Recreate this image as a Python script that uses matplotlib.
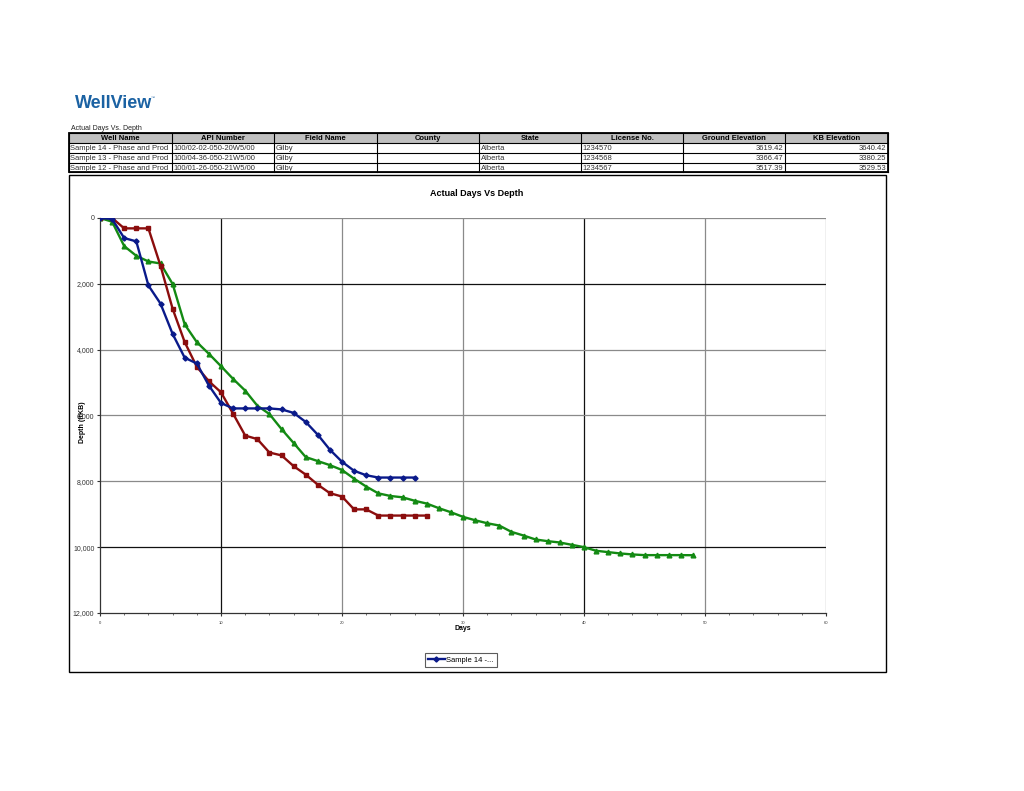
import matplotlib
matplotlib.use("Agg")
import matplotlib.pyplot as plt
from matplotlib.patches import Rectangle
from matplotlib.ticker import MultipleLocator, FuncFormatter

plt.rcParams['font.family'] = ['Liberation Sans', 'DejaVu Sans']

# ---------------- data ----------------
days_s14 = list(range(0, 27))
depth_s14 = [0, 30, 610, 710, 2050, 2600, 3520, 4245, 4420, 5090, 5620,
             5785, 5785, 5785, 5785, 5815, 5920, 6195, 6585, 7040, 7405,
             7680, 7815, 7885, 7885, 7885, 7885]

days_s13 = list(range(0, 28))
depth_s13 = [0, 0, 315, 315, 315, 1450, 2755, 3770, 4520, 4960, 5295,
             5945, 6610, 6717, 7125, 7212, 7538, 7795, 8102, 8360, 8462,
             8852, 8852, 9040, 9040, 9040, 9040, 9040]

days_s12 = list(range(0, 50))
depth_s12 = [0, 112, 854, 1148, 1321, 1382, 2003, 3232, 3771, 4126, 4502,
             4888, 5244, 5701, 5955, 6412, 6835, 7262, 7385, 7508, 7655,
             7920, 8158, 8365, 8445, 8485, 8590, 8675, 8815, 8939, 9079,
             9182, 9273, 9343, 9535, 9646, 9767, 9818, 9858, 9929, 10000,
             10109, 10151, 10191, 10221, 10242, 10242, 10242, 10242, 10245]

series_names = ["Sample 14 - Phase and Prod", "Sample 13 - Phase and Prod",
                "Sample 12 - Phase and Prod"]

table_headers = ["Well Name", "API Number", "Field Name", "County", "State",
                 "License No.", "Ground Elevation", "KB Elevation"]
table_rows = [
    ["Sample 14 - Phase and Prod", "100/02-02-050-20W5/00", "Gilby", "", "Alberta", "1234570", "3619.42", "3640.42"],
    ["Sample 13 - Phase and Prod", "100/04-36-050-21W5/00", "Gilby", "", "Alberta", "1234568", "3366.47", "3380.25"],
    ["Sample 12 - Phase and Prod", "100/01-26-050-21W5/00", "Gilby", "", "Alberta", "1234567", "3517.39", "3529.53"],
]

# ---------------- figure ----------------
W, H = 1024, 791
fig = plt.figure(figsize=(W / 100, H / 100), dpi=100)
fig.patch.set_facecolor("white")

# background axes in pixel coordinates
bg = fig.add_axes([0, 0, 1, 1])
bg.set_xlim(0, W)
bg.set_ylim(H, 0)
bg.axis("off")

# logo
bg.text(75, 103, "WellView", fontsize=13, fontweight="bold", color="#1b62a3",
        ha="left", va="center")
bg.text(151, 98, "\u2122", fontsize=3, color="#1b62a3", ha="left", va="center")

# caption
bg.text(71, 129, "Actual Days Vs. Depth", fontsize=5, color="#222222",
        ha="left", va="center")

# table
col_x = [69, 172, 274, 377, 479, 581, 683, 785, 888]
row_y = [133, 143, 153, 163, 172]
bg.add_patch(Rectangle((col_x[0], row_y[0]), col_x[-1] - col_x[0], row_y[1] - row_y[0],
                       facecolor="#c0c0c0", edgecolor="none", zorder=1))
for y in row_y:
    bg.plot([col_x[0], col_x[-1]], [y, y], color="black", lw=0.8, zorder=2)
for x in col_x:
    bg.plot([x, x], [row_y[0], row_y[-1]], color="black", lw=0.8, zorder=2)
bg.add_patch(Rectangle((col_x[0], row_y[0]), col_x[-1] - col_x[0], row_y[-1] - row_y[0],
                       facecolor="none", edgecolor="black", lw=1.3, zorder=3))
for j, h in enumerate(table_headers):
    bg.text((col_x[j] + col_x[j + 1]) / 2, (row_y[0] + row_y[1]) / 2 + 0.5, h,
            fontsize=5.5, fontweight="bold", ha="center", va="center", zorder=4)
for i, row in enumerate(table_rows):
    yc = (row_y[i + 1] + row_y[i + 2]) / 2 + 0.5
    for j, v in enumerate(row):
        if j >= 6:
            bg.text(col_x[j + 1] - 1.5, yc, v, fontsize=5.5, color="#333333",
                    ha="right", va="center", zorder=4)
        else:
            bg.text(col_x[j] + 1.5, yc, v, fontsize=5.5, color="#333333",
                    ha="left", va="center", zorder=4)

# chart box
bg.add_patch(Rectangle((69, 175), 886 - 69, 672 - 175, facecolor="white",
                       edgecolor="black", lw=1.0, zorder=0))
bg.text(477, 193, "Actual Days Vs Depth", fontsize=6.5, fontweight="bold",
        ha="center", va="center")
bg.text(463, 629, "Days", fontsize=5, fontweight="bold", ha="center", va="center")
bg.text(83, 422, "Depth (ftKB)", fontsize=5, fontweight="bold", rotation=90,
        ha="center", va="center", zorder=10)

# plot axes
x0, x1, y0, y1 = 100, 826, 218, 613
ax = fig.add_axes([x0 / W, 1 - y1 / H, (x1 - x0) / W, (y1 - y0) / H])
ax.set_facecolor("none")
ax.set_xlim(0, 60)
ax.set_ylim(12000, 0)

for xv in range(10, 61, 10):
    ax.axvline(xv, color="#111111" if xv in (10, 40) else "#8a8a8a", lw=0.9, zorder=1)
for yv in range(0, 12000, 2000):
    ax.axhline(yv, color="#111111" if yv in (2000, 10000) else "#8a8a8a", lw=0.9, zorder=1)

for s in ("top", "right"):
    ax.spines[s].set_visible(False)
for s in ("left", "bottom"):
    ax.spines[s].set_color("#333333")
    ax.spines[s].set_linewidth(0.9)

l14, = ax.plot(days_s14, depth_s14, color="#0a1a8a", lw=1.7, marker="D",
               markersize=2.6, label="Sample 14 -...", zorder=5)
ax.plot(days_s13, depth_s13, color="#8b0d0d", lw=1.7, marker="s",
        markersize=3.4, zorder=4)
ax.plot(days_s12, depth_s12, color="#138a13", lw=1.7, marker="^",
        markersize=3.4, zorder=3)

ax.xaxis.set_major_locator(MultipleLocator(10))
ax.xaxis.set_minor_locator(MultipleLocator(2))
ax.yaxis.set_major_locator(MultipleLocator(2000))
ax.yaxis.set_major_formatter(FuncFormatter(lambda v, p: f"{int(v):,}"))
ax.tick_params(axis="x", which="major", labelsize=3, length=2, pad=4, colors="#333333")
ax.tick_params(axis="x", which="minor", length=1.5, colors="#555555")
ax.tick_params(axis="y", which="major", labelsize=5, length=2.5, pad=1.5, colors="#333333")

leg = fig.legend(handles=[l14], labels=["Sample 14 -..."], loc="center left",
                 bbox_to_anchor=(425 / W, 1 - 660 / H), bbox_transform=fig.transFigure,
                 fontsize=5.5, frameon=True, fancybox=False, handlelength=2.2,
                 borderpad=0.4, handletextpad=0.2, borderaxespad=0)
leg.get_frame().set_edgecolor("#333333")
leg.get_frame().set_linewidth(0.8)

fig.savefig("out.png", dpi=100, facecolor="white")
